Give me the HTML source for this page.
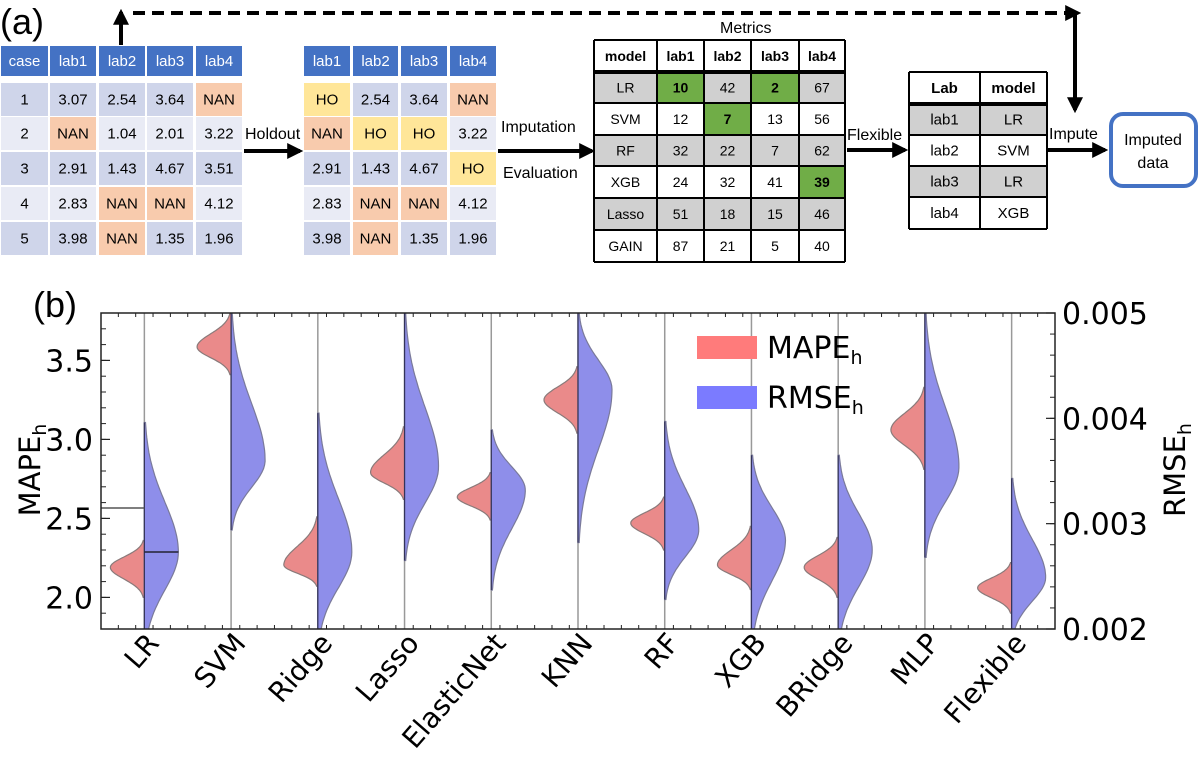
<!DOCTYPE html>
<html><head><meta charset="utf-8"><style>
html,body{margin:0;padding:0;background:#fff;}
svg{display:block;}
.t{font-family:"Liberation Sans",sans-serif;}
.d{font-family:"DejaVu Sans","Liberation Sans",sans-serif;}
</style></head><body>
<svg id="fig" width="1200" height="759" viewBox="0 0 1200 759" xmlns="http://www.w3.org/2000/svg">
<defs>
<marker id="ah" viewBox="0 0 10 10" refX="8" refY="5" markerWidth="4" markerHeight="4" orient="auto"><path d="M0,0 L10,5 L0,10 z" fill="#000"/></marker>
<clipPath id="plotclip"><rect x="101" y="313" width="954" height="316"/></clipPath>
</defs>
<g id="panelA"></g>
<g id="panelB"></g>
</svg>
<script>
// ===== Panel (a) data =====
const rawHeader = ['case','lab1','lab2','lab3','lab4'];
const rawRows = [['1','3.07','2.54','3.64','NAN'],['2','NAN','1.04','2.01','3.22'],['3','2.91','1.43','4.67','3.51'],['4','2.83','NAN','NAN','4.12'],['5','3.98','NAN','1.35','1.96']];
const hoHeader = ['lab1','lab2','lab3','lab4'];
const hoRows = [['HO','2.54','3.64','NAN'],['NAN','HO','HO','3.22'],['2.91','1.43','4.67','HO'],['2.83','NAN','NAN','4.12'],['3.98','NAN','1.35','1.96']];
const metHeader = ['model','lab1','lab2','lab3','lab4'];
const metRows = [['LR','10','42','2','67'],['SVM','12','7','13','56'],['RF','32','22','7','62'],['XGB','24','32','41','39'],['Lasso','51','18','15','46'],['GAIN','87','21','5','40']];
const bestCells = ['0-1','0-3','1-2','3-4'];
const selHeader = ['Lab','model'];
const selRows = [['lab1','LR'],['lab2','SVM'],['lab3','LR'],['lab4','XGB']];

// ===== Panel (b) data =====
const categories = ['LR','SVM','Ridge','Lasso','ElasticNet','KNN','RF','XGB','BRidge','MLP','Flexible'];
const mapePeak = [2.19,3.585,2.205,2.79,2.635,3.25,2.47,2.205,2.19,3.06,2.06];
const mapeMax  = [2.36,3.80,2.51,3.08,2.79,3.46,2.635,2.45,2.38,3.33,2.22];
const mapeMin  = [2.00,3.41,2.07,2.62,2.49,3.04,2.30,2.05,2.00,2.81,1.90];
const rmsePeak = [0.00273,0.00360,0.00273,0.00354,0.00332,0.00427,0.00294,0.00284,0.00275,0.00354,0.00249];
const rmseMax  = [0.00396,0.00500,0.00405,0.00500,0.00389,0.00500,0.00397,0.00365,0.00365,0.00500,0.00343];
const rmseMin  = [0.00180,0.00294,0.00185,0.00265,0.00237,0.00282,0.00228,0.00185,0.00185,0.00268,0.00190];
const mapeTicks = [2.0,2.5,3.0,3.5];
const mapeTickLabels = ['2.0','2.5','3.0','3.5'];
const rmseTicks = [0.002,0.003,0.004,0.005];
const rmseTickLabels = ['0.002','0.003','0.004','0.005'];
const legendLabels = ['MAPE','RMSE'];

const NS='http://www.w3.org/2000/svg';
function mk(tag, attrs, parent){const e=document.createElementNS(NS,tag);for(const k in attrs)e.setAttribute(k,attrs[k]);if(parent)parent.appendChild(e);return e;}
const A=document.getElementById('panelA');
const B=document.getElementById('panelB');

// ---------- Panel A ----------
let e;
e=mk('text',{x:0,y:34,'font-size':36,class:'t'},A);e.textContent='(a)';



function cellText(g,x,y,w,h,txt,opts){const t=mk('text',{x:x+w/2,y:y+h/2+5,'text-anchor':'middle','font-size':opts.fs||14,'font-weight':opts.bold?'bold':'normal',fill:opts.fill||'#000',class:'t'},g);t.textContent=txt;return t;}

function dataTable(name, header, rows, xs, ws, y0, hh, rys, rh){
  const g=mk('g',{},A);
  
  
  header.forEach((h,i)=>{mk('rect',{x:xs[i],y:y0,width:ws[i],height:hh,fill:'#4472c4'},g);cellText(g,xs[i],y0,ws[i],hh,h,{fill:'#fff',fs:15});});
  rows.forEach((r,ri)=>{r.forEach((v,ci)=>{
    let f = ri%2===0?'#cfd5ea':'#e9ebf5';
    if(v==='NAN')f='#f8cbad'; if(v==='HO')f='#ffe699';
    mk('rect',{x:xs[ci],y:rys[ri],width:ws[ci],height:rh,fill:f},g);
    cellText(g,xs[ci],rys[ri],ws[ci],rh,v,{fs:15});
  });});
}
const rowYs=[83,117,152,187,222];
dataTable('raw-data-table',rawHeader,rawRows,[1,50,99,147,196],[47,46,46,46,46],46,30,rowYs,33);
dataTable('holdout-table',hoHeader,hoRows,[304,353,401,450],[46,45,46,46],46,30,rowYs,33);

function label(txt,x,y,name,fs,anchor){const t=mk('text',{x:x,y:y,'font-size':fs||17,'text-anchor':anchor||'start',class:'t'},A);t.textContent=txt;return t;}
function arrow(x1,y1,x2,y2,name,dash){const l=mk('line',{x1,y1,x2,y2,stroke:'#000','stroke-width':4,'marker-end':'url(#ah)'},A);if(dash)l.setAttribute('stroke-dasharray','12,7');return l;}

label('Holdout',245,139,'holdout-label',16);
arrow(244,151,300,151,'holdout-arrow');
label('Imputation',501,132,'imputation-label',16);
label('Evaluation',503,178,'evaluation-label',16);
arrow(498,151,592,151,'imputation-arrow');
label('Metrics',720,33,'metrics-title',16);

// metrics table
(function(){
  const g=mk('g',{},A);
  
  
  const xs=[594,657,704,751,799,845];
  const ys=[40,72,103,135,166,198,230,262];
  metRows.forEach((r,ri)=>{r.forEach((v,ci)=>{
    let f = ri%2===0?'#d0d0d0':'#fff';
    const best = bestCells.indexOf(ri+'-'+ci)>=0;
    if(best) f='#70ad47';
    mk('rect',{x:xs[ci],y:ys[ri+1],width:xs[ci+1]-xs[ci],height:ys[ri+2]-ys[ri+1],fill:f},g);
    cellText(g,xs[ci],ys[ri+1],xs[ci+1]-xs[ci],ys[ri+2]-ys[ri+1],v,{fs:14,bold:best});
  });});
  metHeader.forEach((h,i)=>cellText(g,xs[i],ys[0],xs[i+1]-xs[i],ys[1]-ys[0],h,{fs:14,bold:true}));
  xs.forEach(x=>mk('line',{x1:x,y1:40,x2:x,y2:262,stroke:'#000','stroke-width':2},g));
  ys.forEach((y,i)=>mk('line',{x1:594,y1:y,x2:845,y2:y,stroke:'#000','stroke-width':i===1?4:2},g));
})();
label('Flexible',847,140,'flexible-label',16);
arrow(847,150,905,150,'flexible-arrow');

// selection table
(function(){
  const g=mk('g',{},A);
  
  
  const xs=[909,980,1047];
  const ys=[72,104,135,166,197,229];
  selRows.forEach((r,ri)=>{r.forEach((v,ci)=>{
    const f = ri%2===0?'#d0d0d0':'#fff';
    mk('rect',{x:xs[ci],y:ys[ri+1],width:xs[ci+1]-xs[ci],height:ys[ri+2]-ys[ri+1],fill:f},g);
    cellText(g,xs[ci],ys[ri+1],xs[ci+1]-xs[ci],ys[ri+2]-ys[ri+1],v,{fs:15});
  });});
  selHeader.forEach((h,i)=>cellText(g,xs[i],ys[0],xs[i+1]-xs[i],ys[1]-ys[0],h,{fs:15,bold:true}));
  xs.forEach(x=>mk('line',{x1:x,y1:72,x2:x,y2:229,stroke:'#000','stroke-width':2},g));
  ys.forEach((y,i)=>mk('line',{x1:909,y1:y,x2:1047,y2:y,stroke:'#000','stroke-width':i===1?4:2},g));
})();
label('Impute',1049,139,'impute-label',16);
arrow(1047,150,1105,150,'impute-arrow');
e=mk('rect',{x:1111,y:114,width:85,height:72,rx:12,fill:'#fff',stroke:'#4472c4','stroke-width':4},A);


label('Imputed',1153,145,'imputed-data-label',16,'middle');
label('data',1153,168,'imputed-data-label-2',16,'middle');

// feedback arrows
e=mk('line',{x1:133,y1:13,x2:1078,y2:13,stroke:'#000','stroke-width':4,'stroke-dasharray':'12,7','marker-end':'url(#ah)'},A);


arrow(121,45,121,12,'feedback-up-arrow');
arrow(1075,13,1075,110,'feedback-down-arrow');

// ---------- Panel B ----------
const L=101,R=1055,T=313,Bt=629;
const slot=(R-L)/categories.length;
const xC=i=>L+(i+0.5)*slot;
const yM=v=>Bt-(v-1.8)/(3.8-1.8)*(Bt-T);
const yR=v=>Bt-(v-0.002)/(0.005-0.002)*(Bt-T);
const halfW=34;

e=mk('text',{x:33,y:317,'font-size':36,class:'t'},B);e.textContent='(b)';



const vg=mk('g',{'clip-path':'url(#plotclip)'},B);



categories.forEach((c,i)=>{
  const l=mk('line',{x1:xC(i),y1:T,x2:xC(i),y2:Bt,stroke:'#999','stroke-width':1.5},vg);
  
  
});

function halfPath(cx, peak, vmax, vmin, yf, side){
  const sdU=(vmax-peak)/2.6, sdD=(peak-vmin)/2.6;
  const n=60; const pts=[];
  for(let k=0;k<=n;k++){
    const v=vmax-(vmax-vmin)*k/n;
    const sd=v>peak?sdU:sdD;
    const w=halfW*Math.exp(-0.5*Math.pow((v-peak)/sd,2));
    pts.push([cx+side*w, yf(v)]);
  }
  let d='M'+cx+','+yf(vmax);
  pts.forEach(p=>d+=' L'+p[0].toFixed(1)+','+p[1].toFixed(1));
  d+=' L'+cx+','+yf(vmin)+' Z';
  return d;
}
categories.forEach((c,i)=>{
  const pr=mk('path',{d:halfPath(xC(i),mapePeak[i],mapeMax[i],mapeMin[i],yM,-1),fill:'#ea8a8a',stroke:'#8a7a7a','stroke-width':1.2},vg);
  
  
  const pb=mk('path',{d:halfPath(xC(i),rmsePeak[i],rmseMax[i],rmseMin[i],yR,1),fill:'#8e8eea',stroke:'#7a7a9a','stroke-width':1.2},vg);
  
  
  mk('line',{x1:xC(i),y1:yR(rmseMax[i]),x2:xC(i),y2:Math.min(Bt,yR(rmseMin[i])),stroke:'#33335a','stroke-width':1.2},vg);
});
e=mk('line',{x1:L,y1:508,x2:xC(0),y2:508,stroke:'#555','stroke-width':1.5},B);


e=mk('line',{x1:xC(0),y1:552,x2:xC(0)+halfW,y2:552,stroke:'#223','stroke-width':1.5},B);



e=mk('rect',{x:L,y:T,width:R-L,height:Bt-T,fill:'none',stroke:'#222','stroke-width':1.5},B);



for(let k=0;k<=categories.length*5;k++){
  const x=L+k*slot/5;
  mk('line',{x1:x,y1:Bt,x2:x,y2:Bt-4,stroke:'#222','stroke-width':1},B);
  mk('line',{x1:x,y1:T,x2:x,y2:T+4,stroke:'#222','stroke-width':1},B);
}
categories.forEach((c,i)=>{
  const x=xC(i)+16, y=644;
  const t=mk('text',{x:x,y:y,'font-size':28,'text-anchor':'end',transform:`rotate(-49 ${x} ${y})`,class:'d'},B);
  t.textContent=c;
  
  
});
for(let v=1.8;v<=3.8001;v+=0.1){const y=yM(v);mk('line',{x1:L,y1:y,x2:L+5,y2:y,stroke:'#222','stroke-width':1},B);}
mapeTicks.forEach((v,i)=>{
  const y=yM(v);
  mk('line',{x1:L,y1:y,x2:L+9,y2:y,stroke:'#222','stroke-width':1.2},B);
  const t=mk('text',{x:L-8,y:y+11,'font-size':30,'text-anchor':'end',class:'d'},B);
  t.textContent=mapeTickLabels[i];
  
  
});
for(let k=0;k<=15;k++){const y=yR(0.002+k*0.0002);mk('line',{x1:R,y1:y,x2:R-5,y2:y,stroke:'#222','stroke-width':1},B);}
rmseTicks.forEach((v,i)=>{
  const y=yR(v);
  mk('line',{x1:R,y1:y,x2:R-9,y2:y,stroke:'#222','stroke-width':1.2},B);
  const t=mk('text',{x:R+7,y:y+11,'font-size':30,class:'d'},B);
  t.textContent=rmseTickLabels[i];
  
  
});
e=mk('text',{x:40,y:470,'font-size':29,'text-anchor':'middle',transform:'rotate(-90 40 470)',class:'d'},B);
e.innerHTML='MAPE<tspan font-size="19" dy="6">h</tspan>';


e=mk('text',{x:1185,y:470,'font-size':29,'text-anchor':'middle',transform:'rotate(-90 1185 470)',class:'d'},B);
e.innerHTML='RMSE<tspan font-size="19" dy="6">h</tspan>';



const legColors=['#ff7b7b','#7b7bff'];
legendLabels.forEach((lab,i)=>{
  const y=336+i*50;
  const r=mk('rect',{x:697,y:y,width:60,height:23,fill:legColors[i]},B);
  
  
  const t=mk('text',{x:767,y:y+22,'font-size':30,class:'d'},B);
  t.innerHTML=lab+'<tspan font-size="19" dy="6">h</tspan>';
  
  
});
</script>
</body></html>
